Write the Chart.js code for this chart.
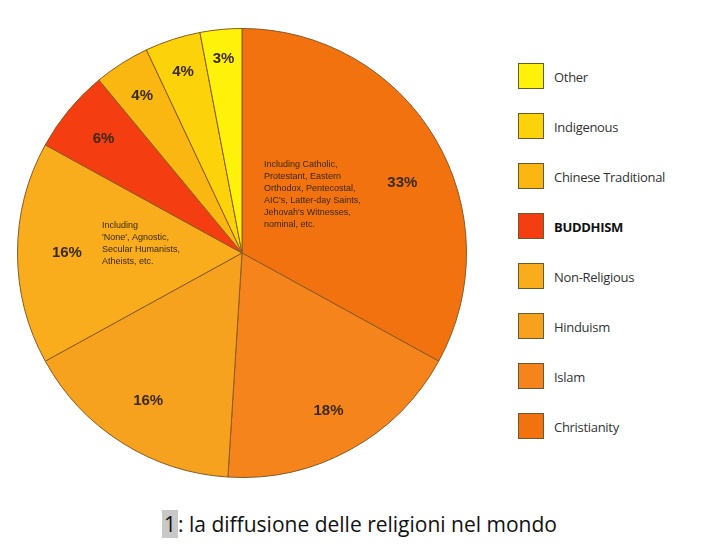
<!DOCTYPE html>
<html>
<head>
<meta charset="utf-8">
<script src="https://cdn.jsdelivr.net/npm/chart.js@4/dist/chart.umd.min.js"></script>
<style>
body{margin:0;background:#fff;width:711px;height:556px;position:relative;overflow:hidden;font-family:"Open Sans",sans-serif;}
#wrap{position:absolute;left:0;top:11px;width:484px;height:484px;}
#legend{position:absolute;left:518px;top:63px;}
.item{height:50px;display:flex;align-items:flex-start;font-size:13px;color:#333;letter-spacing:-0.3px;}
.sw{width:26px;height:26px;border:1.5px solid #6b5a2a;box-sizing:border-box;margin-right:10px;margin-top:0px;}
.item span{line-height:28px;}
#cap{position:absolute;left:0;width:711px;top:510px;text-align:center;font-size:21px;color:#111;padding-left:4px;}
#cap b{font-weight:normal;background:#c8c8c8;padding:0 2px;}
</style>
</head>
<body>
<div id="wrap"><canvas id="pie"></canvas></div>
<div id="legend"></div>
<div id="cap"><b>1</b>: la diffusione delle religioni nel mondo</div>
<script>
const labels=["Christianity","Islam","Hinduism","Non-Religious","BUDDHISM","Chinese Traditional","Indigenous","Other"];
const values=[33,18,16,16,6,4,4,3];
const colors=["#f2720f","#f5841c","#f7a21f","#f9ad1c","#f53d12","#fab712","#fcd20a","#fff20a"];

const legend=document.getElementById("legend");
for(let i=labels.length-1;i>=0;i--){
    const d=document.createElement("div");
    d.className="item";
    d.innerHTML='<div class="sw" style="background:'+colors[i]+'"></div><span'+(i===4?' style="font-weight:bold;color:#111"':'')+'>'+labels[i]+'</span>';
    legend.appendChild(d);
}

const notes={
    0:{dx:22,dy:-88,lines:["Including Catholic,","Protestant, Eastern","Orthodox, Pentecostal,","AIC's, Latter-day Saints,","Jehovah's Witnesses,","nominal, etc."]},
    3:{dx:-140,dy:-27,lines:["Including","'None', Agnostic,","Secular Humanists,","Atheists, etc."]}
};

const labelPlugin={
    id:"labels",
    afterDatasetsDraw(chart){
        const ctx=chart.ctx;
        const meta=chart.getDatasetMeta(0);
        ctx.save();
        ctx.fillStyle="#3a2a10";
        ctx.textAlign="center";
        ctx.textBaseline="middle";
        ctx.font="bold 15px 'Liberation Sans',Arial,sans-serif";
        const place=[0.78,0.8,0.78,0.78,0.8,0.83,0.85,0.87];
        const shift=[0.12,0,0,0,0,0,0,0];
        meta.data.forEach((arc,i)=>{
            const p=arc.getProps(["x","y","startAngle","endAngle","outerRadius"],true);
            const a=(p.startAngle+p.endAngle)/2+shift[i];
            const r=p.outerRadius*place[i];
            ctx.fillText(values[i]+"%",p.x+Math.cos(a)*r,p.y+Math.sin(a)*r);
        });
        const c=meta.data[0];
        ctx.font="9px 'Liberation Sans',Arial,sans-serif";
        ctx.textAlign="left";
        Object.keys(notes).forEach(k=>{
            const n=notes[k];
            n.lines.forEach((t,j)=>ctx.fillText(t,c.x+n.dx,c.y+n.dy+j*12));
        });
        ctx.restore();
    }
};

new Chart(document.getElementById("pie"),{
    type:"pie",
    data:{labels:labels,datasets:[{data:values,backgroundColor:colors,borderColor:"#8a5a20",borderWidth:1}]},
    options:{
        responsive:true,
        maintainAspectRatio:false,
        animation:false,
        layout:{padding:17},
        plugins:{legend:{display:false},tooltip:{enabled:false}}
    },
    plugins:[labelPlugin]
});
</script>
</body>
</html>
